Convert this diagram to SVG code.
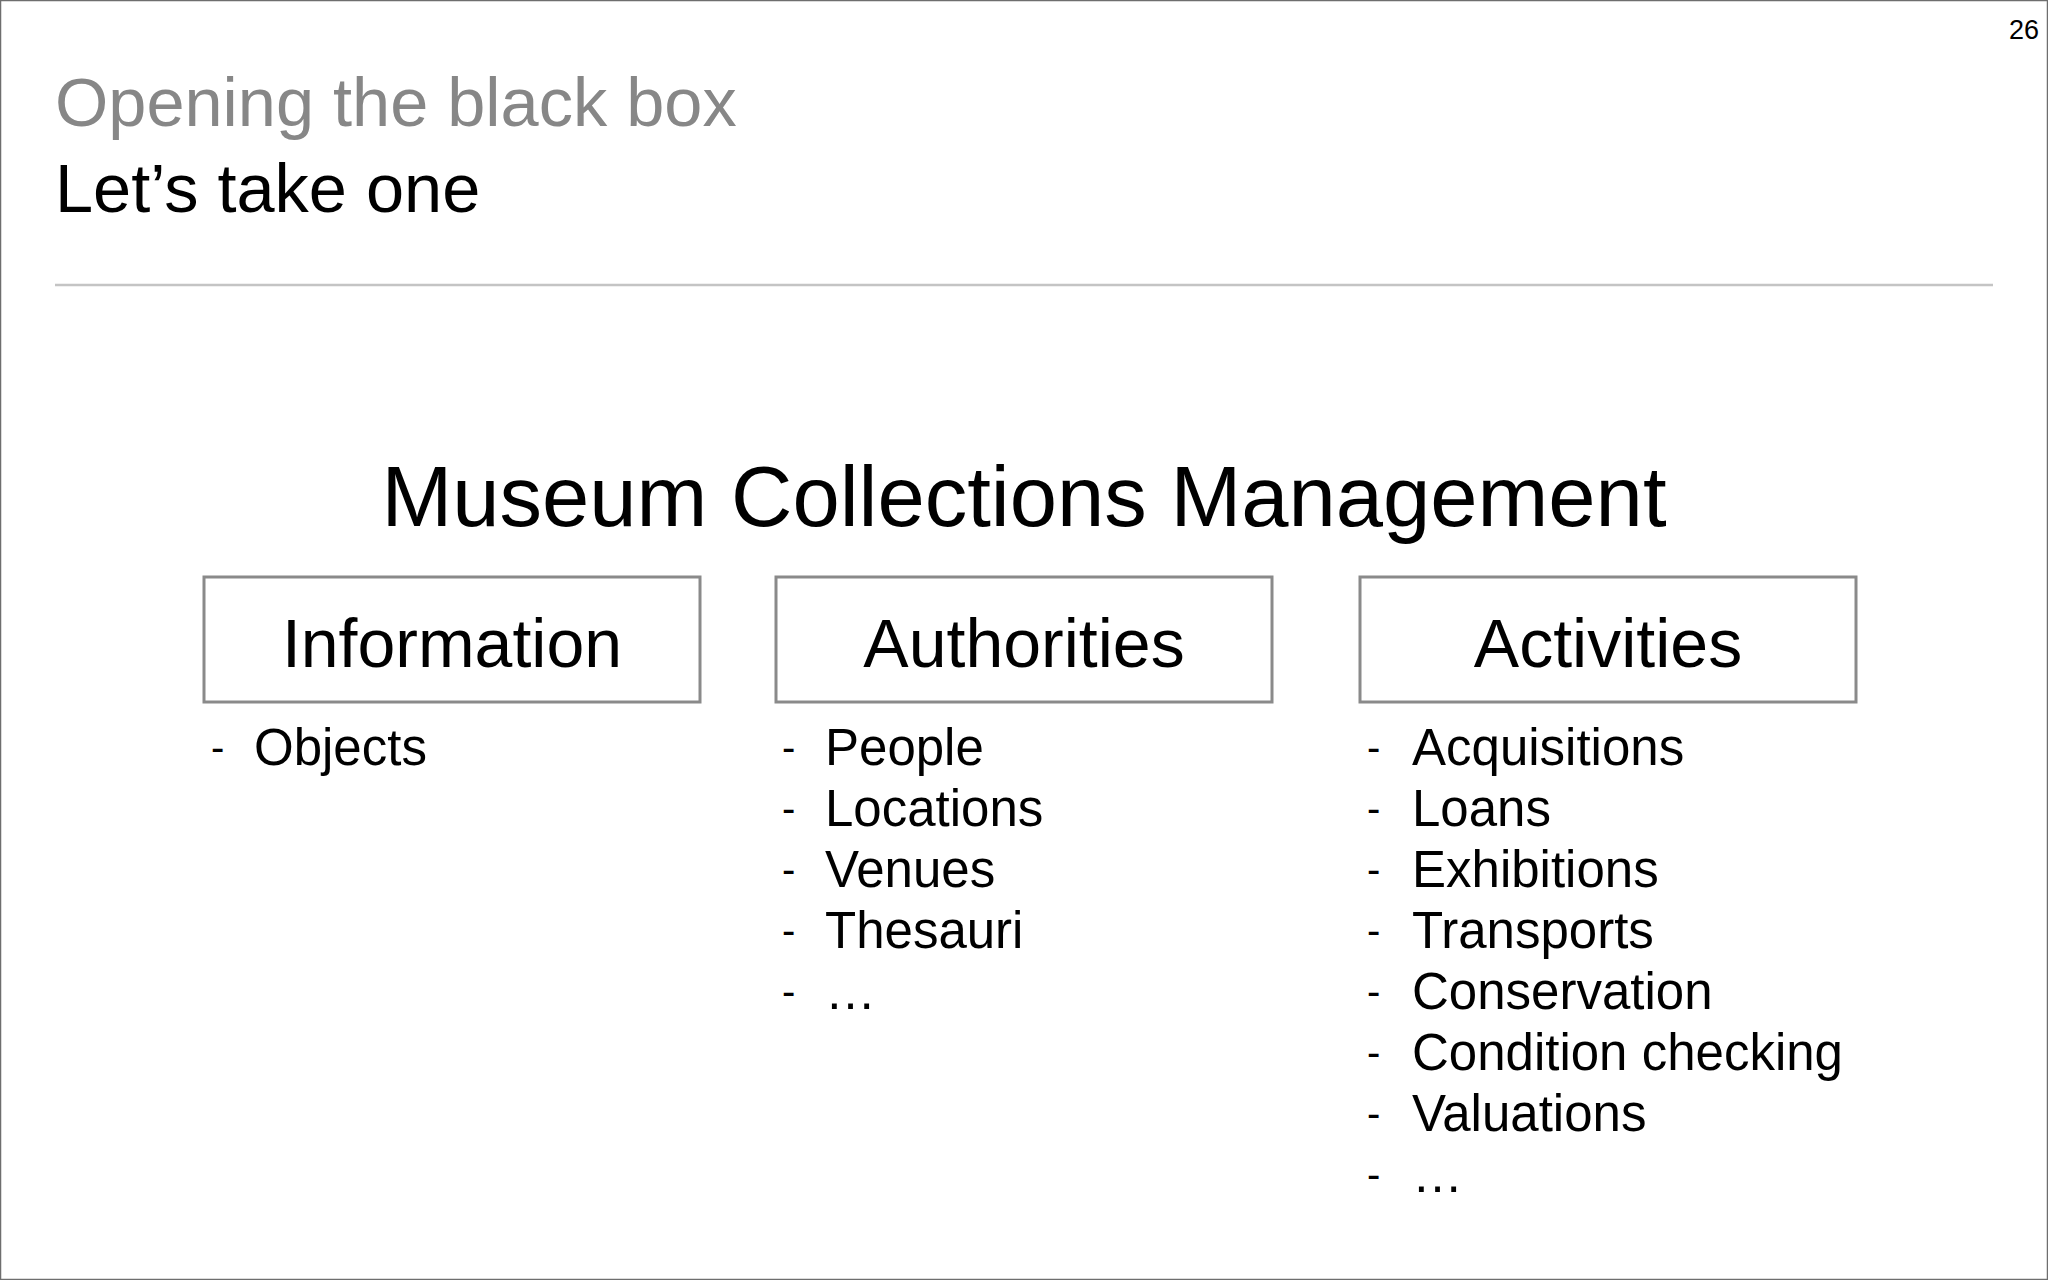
<svg xmlns="http://www.w3.org/2000/svg" width="2048" height="1280" viewBox="0 0 2048 1280">
<style>
text{font-family:"Liberation Sans",Arial,Helvetica,sans-serif;fill:#000}
.head{font-size:68.5px}
.sub{fill:#878787}
.box{fill:#fff;stroke:#8a8a8a;stroke-width:3}
.lbl{font-size:68px;text-anchor:middle}
.item{font-size:51px}
.dash{font-size:40px}
</style>
<rect x="0" y="0" width="2048" height="1280" fill="#fff"/>
<rect x="0.5" y="0.5" width="2047" height="1279" fill="none" stroke="#6e6e6e" stroke-width="1.5"/>
<text x="2039" y="39" font-size="27" text-anchor="end">26</text>
<text class="head sub" x="55" y="126">Opening the black box</text>
<text class="head" x="55" y="212">Let’s take one</text>
<line x1="55" y1="285" x2="1993" y2="285" stroke="#c4c4c4" stroke-width="2.5"/>
<text x="1024" y="526" font-size="85" text-anchor="middle">Museum Collections Management</text>
<g id="information">
<rect class="box" x="204" y="577" width="496" height="125"/>
<text class="lbl" x="452" y="667">Information</text>
<text class="dash" x="211" y="761">-</text><text class="item" x="254" y="765">Objects</text>
</g>
<g id="authorities">
<rect class="box" x="776" y="577" width="496" height="125"/>
<text class="lbl" x="1024" y="667">Authorities</text>
<text class="dash" x="782" y="761">-</text><text class="item" x="825" y="765">People</text>
<text class="dash" x="782" y="822">-</text><text class="item" x="825" y="826">Locations</text>
<text class="dash" x="782" y="883">-</text><text class="item" x="825" y="887">Venues</text>
<text class="dash" x="782" y="944">-</text><text class="item" x="825" y="948">Thesauri</text>
<text class="dash" x="782" y="1005">-</text><text class="item" x="825" y="1009">…</text>
</g>
<g id="activities">
<rect class="box" x="1360" y="577" width="496" height="125"/>
<text class="lbl" x="1608" y="667">Activities</text>
<text class="dash" x="1367" y="761">-</text><text class="item" x="1412" y="765">Acquisitions</text>
<text class="dash" x="1367" y="822">-</text><text class="item" x="1412" y="826">Loans</text>
<text class="dash" x="1367" y="883">-</text><text class="item" x="1412" y="887">Exhibitions</text>
<text class="dash" x="1367" y="944">-</text><text class="item" x="1412" y="948">Transports</text>
<text class="dash" x="1367" y="1005">-</text><text class="item" x="1412" y="1009">Conservation</text>
<text class="dash" x="1367" y="1066">-</text><text class="item" x="1412" y="1070">Condition checking</text>
<text class="dash" x="1367" y="1127">-</text><text class="item" x="1412" y="1131">Valuations</text>
<text class="dash" x="1367" y="1188">-</text><text class="item" x="1412" y="1192">…</text>
</g>
<g id="connectors"></g>
</svg>
